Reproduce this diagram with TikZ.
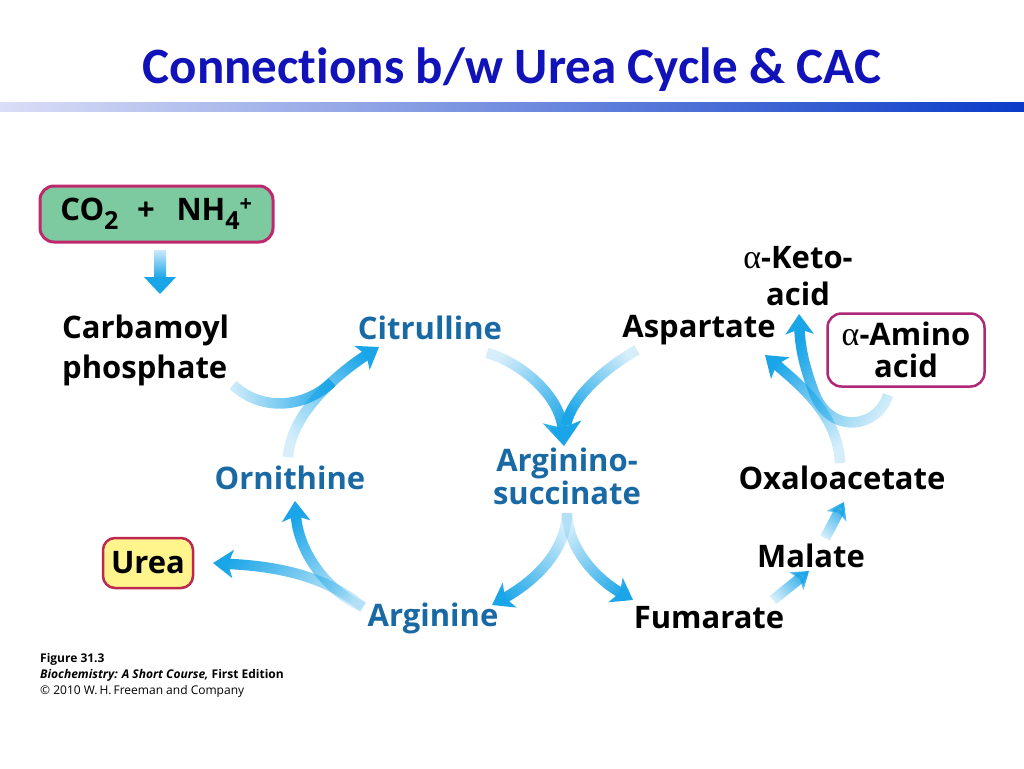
\documentclass[tikz,border=0pt]{standalone}
\usepackage{fontspec}
\setmainfont{Open Sans}
\newfontfamily\titlefont[Ligatures=NoCommon]{Carlito}
\newfontfamily\greekfont{Liberation Serif}
\usetikzlibrary{arrows.meta,fadings}
\definecolor{titleblue}{RGB}{18,18,185}
\definecolor{barlight}{RGB}{218,222,246}
\definecolor{bardark}{RGB}{10,60,200}
\definecolor{labelblue}{RGB}{25,105,165}
\definecolor{arrowblue}{RGB}{25,165,232}
\definecolor{arrowpale}{RGB}{205,232,250}
\definecolor{co2fill}{RGB}{125,202,160}
\definecolor{co2border}{RGB}{190,40,110}
\definecolor{ureafill}{RGB}{255,245,140}
\definecolor{ureaborder}{RGB}{190,40,80}
\definecolor{aminoborder}{RGB}{175,40,120}
\tikzfading[name=fadeE, left color=transparent!82, right color=transparent!0]
\newcommand\alp{{\greekfont\mdseries\fontsize{34}{34}\selectfont α}}
\newcommand\chemsub[1]{\raisebox{-0.3em}{\fontsize{25}{25}\selectfont #1}}
\begin{document}
\begin{tikzpicture}[x=1pt,y=1pt,
  lbl/.style={font=\fontsize{31}{37}\selectfont\bfseries, text=labelblue, align=center, inner sep=0pt},
  blk/.style={lbl, text=black},
  flow/.style={line width=10.5pt, draw=arrowblue, path fading=fadeE},
  head/.style={-{Stealth[length=20pt,width=28pt,inset=5pt]}},
  bighead/.style={-{Stealth[length=24pt,width=38pt,inset=6pt]}},
  smallhead/.style={-{Stealth[length=16pt,width=22pt,inset=4pt]}},
  foot/.style={anchor=base west, inner sep=0pt, font=\fontsize{12}{14}\selectfont}
]
\useasboundingbox (0,0) rectangle (1024,-768);
\fill[white] (0,0) rectangle (1024,-768);

% title and bar
\node[anchor=base, font=\titlefont\bfseries\fontsize{51}{56}\selectfont, text=titleblue] (title) at (512,-83) {Connections b/w Urea Cycle \& CAC};
\shade[left color=barlight, right color=bardark] (0,-102) rectangle (1024,-111);

% nodes
\node[blk, draw=co2border, fill=co2fill, line width=3pt, rounded corners=14pt, minimum width=233pt, minimum height=56pt] (co2) at (156.5,-214) {CO\chemsub{2}\hspace{0.6em}+\hspace{0.7em}NH\chemsub{4}\textsuperscript{+}};
\node[blk, font=\fontsize{31}{40}\selectfont\bfseries, align=left, anchor=west] (carb) at (62,-350) {Carbamoyl\\phosphate};
\node[lbl] (cit) at (430,-328) {Citrulline};
\node[lbl] (orn) at (290,-478) {Ornithine};
\node[lbl, font=\fontsize{31}{33}\selectfont\bfseries] (as) at (567,-476) {Arginino-\\succinate};
\node[lbl] (arg) at (433,-618) {Arginine};
\node[blk, draw=ureaborder, fill=ureafill, line width=2.5pt, rounded corners=12pt, minimum width=90pt, minimum height=50pt] (urea) at (148,-563) {Urea};
\node[blk] (fum) at (709,-618) {Fumarate};
\node[blk] (mal) at (811,-556) {Malate};
\node[blk] (oaa) at (842,-478) {Oxaloacetate};
\node[blk] (asp) at (699,-330) {Aspartate};
\node[blk] (keto) at (798,-276) {\alp-Keto-\\acid};
\node[blk, font=\fontsize{31}{32}\selectfont\bfseries, draw=aminoborder, line width=2.5pt, rounded corners=14pt, minimum width=157pt, minimum height=73pt] (amino) at (906,-350) {\alp-Amino\\acid};

% footer
\node[foot] (f1) at (40,-662) {\bfseries Figure 31.3};
\node[foot] (f2) at (40,-678) {\bfseries\itshape Biochemistry: A Short Course,\upshape\ First Edition};
\node[foot] (f3) at (40,-694) {© 2010 W.\,H.\,Freeman and Company};

% arrow endpoints
\coordinate (co2s) at (160,-250);
\coordinate (carbin) at (160,-294);
\coordinate (ornout) at (288,-457);
\coordinate (citin) at (379,-347);
\coordinate (carbout) at (233,-385);
\coordinate (merge1) at (332,-382);
\coordinate (citout) at (487,-353);
\coordinate (asin) at (564,-446);
\coordinate (aspout) at (637,-350);
\coordinate (merge2) at (566,-425);
\coordinate (asout) at (567,-513);
\coordinate (argin) at (492,-605);
\coordinate (fumin) at (633,-600);
\coordinate (argout) at (363,-607);
\coordinate (ornin) at (295,-501);
\coordinate (ureain) at (213,-563);
\coordinate (fumout) at (773,-600);
\coordinate (malin) at (809,-571);
\coordinate (malout) at (825,-538);
\coordinate (oaain) at (844,-502);
\coordinate (oaaout) at (840,-463);
\coordinate (aspin) at (765,-355);
\coordinate (aminoout) at (888,-395);
\coordinate (merge3) at (815,-395);
\coordinate (ketoin) at (799,-314);

% CO2 -> carbamoyl phosphate
\shade[top color=arrowpale, bottom color=arrowblue] ([xshift=-6pt]co2s) rectangle ([xshift=6pt,yshift=-28pt]co2s);
\fill[arrowblue] ([xshift=-16pt,yshift=-27pt]co2s) -- ([xshift=16pt,yshift=-27pt]co2s) -- (carbin) -- cycle;

% urea cycle
\draw[flow, fading angle=0] (carbout) .. controls (262,-412) and (305,-408) .. (merge1);
\draw[flow, head, fading angle=51] (ornout) .. controls (291,-412) and (340,-372) .. (citin);
\draw[flow, fading angle=-132] (aspout) .. controls (610,-365) and (572,-395) .. (merge2);
\draw[flow, bighead, fading angle=-49] (citout) .. controls (520,-362) and (560,-395) .. (asin);
\draw[flow, head, fading angle=-129] (asout) .. controls (566,-548) and (540,-578) .. (argin);
\draw[flow, head, fading angle=-54] (asout) .. controls (568,-548) and (595,-578) .. (fumin);
\draw[flow, head, fading angle=123] (argout) .. controls (325,-590) and (298,-550) .. (ornin);
\draw[flow, head, fading angle=163] (argout) .. controls (320,-572) and (268,-566) .. (ureain);

% citric acid cycle side
\draw[flow, smallhead, fading angle=38] (fumout) -- (malin);
\draw[flow, smallhead, fading angle=62] (malout) -- (oaain);
\draw[flow, head, fading angle=125] (oaaout) .. controls (838,-415) and (800,-385) .. (aspin);
\draw[flow, head, fading angle=139] (aminoout) .. controls (878,-428) and (832,-435) .. (merge3) .. controls (806,-372) and (800,-350) .. (ketoin);
\end{tikzpicture}
\end{document}
